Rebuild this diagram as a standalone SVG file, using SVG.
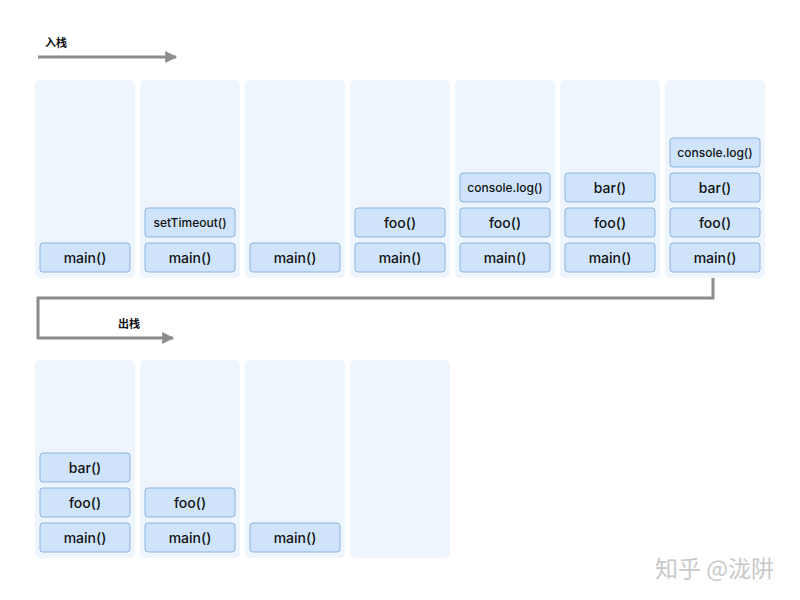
<svg xmlns="http://www.w3.org/2000/svg" width="800" height="600" viewBox="0 0 800 600">
<style>
.col{fill:#eff5fd}
.b{fill:#cfe4fb;stroke:#8ab3df;stroke-width:1}
.t{font-family:Inter,"Liberation Sans",Arial,sans-serif;font-size:14px;font-weight:500;fill:#111;text-anchor:middle}
.s{font-size:12px}
.lbl{font-family:"Noto Sans CJK SC",sans-serif;font-size:11px;font-weight:bold;fill:#111}
.ln{fill:none;stroke:#8c8c8c;stroke-width:3}
</style>
<defs>
<marker id="ah" viewBox="0 0 10 10" refX="9" refY="5" markerWidth="5" markerHeight="4" orient="auto" markerUnits="strokeWidth"><path d="M0,0 L10,5 L0,10z" fill="#8c8c8c"/></marker>
<g id="main"><rect class="b" x="5" y="163" width="90" height="29" rx="3"/><text class="t" x="50" y="183">main()</text></g>
<g id="foo"><rect class="b" x="5" y="128" width="90" height="29" rx="3"/><text class="t" x="50" y="148">foo()</text></g>
<g id="bar"><rect class="b" x="5" y="93" width="90" height="29" rx="3"/><text class="t" x="50" y="113">bar()</text></g>
</defs>
<g id="connectors">
<path class="ln" d="M38,57 H176" marker-end="url(#ah)"/>
<path class="ln" d="M713,278 V298 H38 V338 H173" marker-end="url(#ah)"/>
</g>
<text class="lbl" x="45" y="47">入栈</text>
<text class="lbl" x="118" y="328">出栈</text>
<g id="c1" transform="translate(35,80)"><rect class="col" width="100" height="198" rx="5"/><use href="#main"/></g>
<g id="c2" transform="translate(140,80)"><rect class="col" width="100" height="198" rx="5"/><use href="#main"/><rect class="b" x="5" y="128" width="90" height="29" rx="3"/><text class="t s" x="50" y="147">setTimeout()</text></g>
<g id="c3" transform="translate(245,80)"><rect class="col" width="100" height="198" rx="5"/><use href="#main"/></g>
<g id="c4" transform="translate(350,80)"><rect class="col" width="100" height="198" rx="5"/><use href="#main"/><use href="#foo"/></g>
<g id="c5" transform="translate(455,80)"><rect class="col" width="100" height="198" rx="5"/><use href="#main"/><use href="#foo"/><rect class="b" x="5" y="93" width="90" height="29" rx="3"/><text class="t s" x="50" y="112">console.log()</text></g>
<g id="c6" transform="translate(560,80)"><rect class="col" width="100" height="198" rx="5"/><use href="#main"/><use href="#foo"/><use href="#bar"/></g>
<g id="c7" transform="translate(665,80)"><rect class="col" width="100" height="198" rx="5"/><use href="#main"/><use href="#foo"/><use href="#bar"/><rect class="b" x="5" y="58" width="90" height="29" rx="3"/><text class="t s" x="50" y="77">console.log()</text></g>
<g id="d1" transform="translate(35,360)"><rect class="col" width="100" height="198" rx="5"/><use href="#main"/><use href="#foo"/><use href="#bar"/></g>
<g id="d2" transform="translate(140,360)"><rect class="col" width="100" height="198" rx="5"/><use href="#main"/><use href="#foo"/></g>
<g id="d3" transform="translate(245,360)"><rect class="col" width="100" height="198" rx="5"/><use href="#main"/></g>
<g id="d4" transform="translate(350,360)"><rect class="col" width="100" height="198" rx="5"/></g>
<text x="655" y="577" style="font-family:'Noto Sans CJK SC',sans-serif;font-size:23px;fill:#c8c8c8">知乎 @泷阱</text>
</svg>
